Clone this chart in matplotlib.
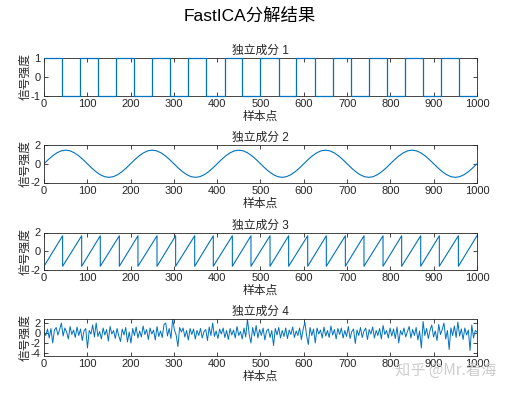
import numpy as np
import matplotlib
matplotlib.use("Agg")
import matplotlib.pyplot as plt

plt.rcParams['font.family'] = ['Liberation Sans', 'Noto Sans CJK SC', 'DejaVu Sans']
plt.rcParams['axes.unicode_minus'] = False

# 独立成分 1: square wave, switch points and levels
sq_edges = [0, 42, 83, 125, 167, 208, 250, 292, 333, 375, 417, 458, 500,
            542, 583, 625, 667, 708, 750, 792, 833, 875, 917, 958, 1000]
sq_levels = [1, -1, 1, -1, 1, -1, 1, -1, 1, -1, 1, -1,
             1, -1, 1, -1, 1, -1, 1, -1, 1, -1, 1, -1]

# 独立成分 2: sine, sampled every 10 points
sine_vals = [
    0.00, 0.45, 0.85, 1.17, 1.38, 1.45, 1.38, 1.17, 0.85, 0.45,
    0.00, -0.45, -0.85, -1.17, -1.38, -1.45, -1.38, -1.17, -0.85, -0.45,
    0.00, 0.45, 0.85, 1.17, 1.38, 1.45, 1.38, 1.17, 0.85, 0.45,
    0.00, -0.45, -0.85, -1.17, -1.38, -1.45, -1.38, -1.17, -0.85, -0.45,
    0.00, 0.45, 0.85, 1.17, 1.38, 1.45, 1.38, 1.17, 0.85, 0.45,
    0.00, -0.45, -0.85, -1.17, -1.38, -1.45, -1.38, -1.17, -0.85, -0.45,
    0.00, 0.45, 0.85, 1.17, 1.38, 1.45, 1.38, 1.17, 0.85, 0.45,
    0.00, -0.45, -0.85, -1.17, -1.38, -1.45, -1.38, -1.17, -0.85, -0.45,
    0.00, 0.45, 0.85, 1.17, 1.38, 1.45, 1.38, 1.17, 0.85, 0.45,
    0.00, -0.45, -0.85, -1.17, -1.38, -1.45, -1.38, -1.17, -0.85, -0.45,
    0.00,
]

# 独立成分 3: sawtooth, reset points and low/high values
saw_resets = [0, 43, 87, 130, 174, 217, 261, 304, 348, 391, 435, 478,
              522, 565, 609, 652, 696, 739, 783, 826, 870, 913, 957, 1000]
saw_low = -1.6
saw_high = 1.65

# 独立成分 4: noise, sampled every 4 points
noise_vals = [
    0.3, -0.5, 0.8, -1.0, 0.9, -2.0, 0.6, 1.1, -0.4, 0.7,
    2.0, -0.6, 1.0, 0.2, -1.2, 1.3, -0.3, 0.6, -0.9, 1.2,
    -0.5, 0.8, -1.5, 0.4, 0.9, -3.0, 0.5, -0.2, 1.6, -0.8,
    2.0, -0.7, 0.3, -1.2, 1.0, -0.4, 0.7, -1.6, 1.3, -0.2,
    0.5, -1.1, 0.9, -0.6, -1.7, 0.8, -0.4, 1.1, -1.8, 0.2,
    -2.0, 0.9, -0.5, 1.2, -1.0, 0.4, -0.8, 1.4, -0.3, 0.7,
    -1.3, 1.0, -0.2, 0.6, -1.4, 1.3, -0.7, 0.4, -0.9, 1.7,
    2.0, -0.6, 0.9, -1.1, 2.8, 0.6, -0.4, -2.7, 1.1, 0.2,
    1.0, -0.8, 0.5, -1.4, 0.9, -0.3, 0.8, -1.2, 0.5, -0.5,
    0.9, -1.0, 0.3, 0.7, -1.5, 1.2, -0.5, 2.0, -0.7, 0.4,
    -1.1, 0.8, -0.2, 1.0, -0.9, 0.5, -1.3, 0.9, -0.4, 0.6,
    -1.0, 1.3, -0.5, 0.3, -1.2, 1.0, -0.8, 2.8, -0.3, -2.0,
    1.1, -0.6, 1.5, -1.0, 0.7, -0.5, 1.0, -1.4, 0.4, 0.8,
    -0.9, 0.5, -2.5, 0.9, -0.4, 1.1, -1.0, 0.5, -0.7, 1.0,
    -1.1, 0.6, -0.3, 1.2, -0.9, 0.4, -0.5, 1.0, -1.3, 0.7,
    2.2, -0.5, -2.3, 1.1, -0.5, 0.8, -2.0, 1.0, -0.2, 0.6,
    -1.0, 1.2, -0.6, 0.5, -0.9, 1.4, -0.4, 0.7, -1.2, 0.9,
    -0.3, 1.0, -1.0, 0.5, -0.7, 1.3, -1.1, 0.3, 0.8, -2.1,
    0.6, -0.5, 1.1, -0.9, 0.4, 1.0, -1.3, 0.7, -0.2, 1.2,
    -1.0, 0.5, -0.5, 0.9, -1.2, 1.5, -0.3, 0.5, -1.0, 1.0,
    -0.6, 0.8, -1.1, 1.2, -2.0, 0.5, -0.4, 1.0, -0.8, 0.3,
    1.3, -1.0, 0.7, -0.5, 1.1, -1.4, 0.4, -3.0, 2.3, -0.5,
    0.9, -1.1, 0.6, 1.6, -0.8, 0.4, -1.5, 1.7, -0.3, 0.7,
    2.0, -1.2, 0.5, -3.3, 1.0, -0.5, 1.4, -0.9, 2.2, -0.6,
    0.8, -1.3, 1.0, -0.4, 0.6, -3.5, 1.6, -1.0, 0.5, 0.2,
]

titles = ['独立成分 1', '独立成分 2', '独立成分 3', '独立成分 4']
ylims = [(-1, 1), (-2, 2), (-2, 2), (-4.6, 2.9)]
yticks = [[-1, 0, 1], [-2, 0, 2], [-2, 0, 2], [-4, -2, 0, 2]]
xticks = list(range(0, 1001, 100))

blue = '#0072BD'
dark = '#262626'

fig = plt.figure(figsize=(5.10, 3.94), dpi=100)
fig.text(0.49, 1 - 16 / 394, 'FastICA分解结果', ha='center', va='center',
         fontsize=12.5, color='black')

bottoms = [1 - 95.5 / 394, 1 - 182.5 / 394, 1 - 270 / 394, 1 - 356 / 394]
height = 37.5 / 394
axes = [fig.add_axes([44 / 510, b, 433 / 510, height]) for b in bottoms]

# square wave (sits on the axes edges, so draw it over the frame)
axes[0].stairs(sq_levels, sq_edges, color=blue, lw=0.9, baseline=None,
               clip_on=False, zorder=3)

# sine
x_sine = np.linspace(0, 1000, len(sine_vals))
axes[1].plot(x_sine, sine_vals, color=blue, lw=0.8)

# sawtooth
saw_x, saw_y = [], []
for a, b in zip(saw_resets[:-1], saw_resets[1:]):
    saw_x += [a, b]
    saw_y += [saw_low, saw_high]
axes[2].plot(saw_x, saw_y, color=blue, lw=0.8)

# noise
x_noise = np.linspace(0, 1000, len(noise_vals))
axes[3].plot(x_noise, noise_vals, color=blue, lw=0.7)

for ax, t, yl, yt in zip(axes, titles, ylims, yticks):
    ax.set_xlim(0, 1000)
    ax.set_ylim(*yl)
    ax.set_xticks(xticks)
    ax.set_yticks(yt)
    ax.tick_params(direction='in', top=True, right=True, length=3, width=0.6,
                   labelsize=8, colors=dark, pad=2.5)
    for s in ax.spines.values():
        s.set_linewidth(0.6)
        s.set_color(dark)
    ax.set_title(t, fontsize=8.5, pad=3, color=dark)
    ax.set_xlabel('样本点', fontsize=8.5, color=dark, labelpad=1)
    ax.set_ylabel('信号强度', fontsize=8.5, color=dark)
    ax.yaxis.set_label_coords(-0.03, 0.5)

fig.text(0.874, 1 - 370 / 394, '知乎 @Mr.看海', ha='center', va='center',
         fontsize=11, color='#c8c8c8', alpha=0.9,
         family=['Noto Sans CJK SC', 'DejaVu Sans'])

fig.savefig('out.png', dpi=100)
